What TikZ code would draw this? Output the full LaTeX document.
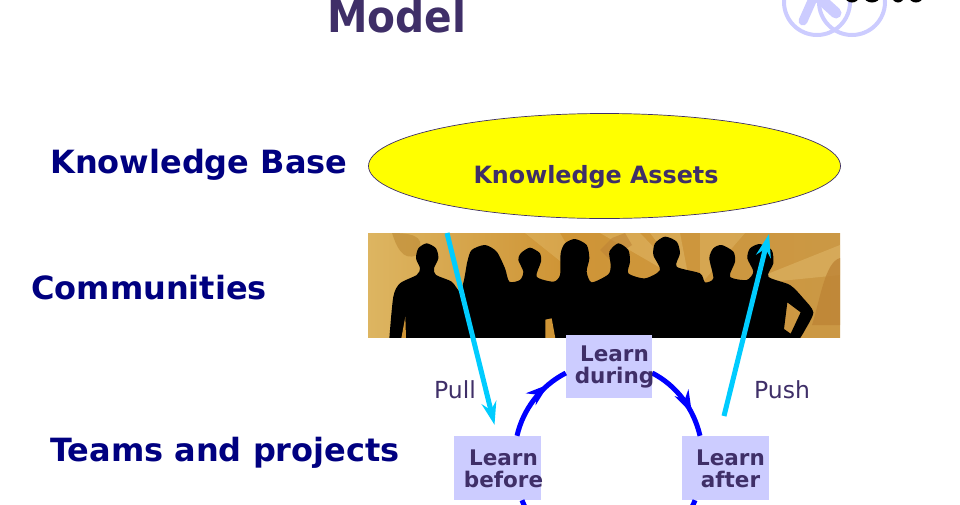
\documentclass[tikz,border=0pt]{standalone}
\usepackage{fontspec}
\setmainfont{DejaVu Sans}
\newfontfamily\condfont[FakeStretch=0.925]{DejaVu Sans}
\usetikzlibrary{arrows.meta,shapes.geometric,decorations.markings}
\definecolor{ink}{HTML}{3F2F68}
\definecolor{navyt}{HTML}{000080}
\definecolor{lilac}{HTML}{CCCCFF}
\definecolor{cyanar}{HTML}{00CCFF}
\definecolor{yel}{HTML}{FFFF00}
\definecolor{blu}{HTML}{0000FF}
\definecolor{goldA}{HTML}{DDB561}
\definecolor{goldB}{HTML}{CF9536}
\definecolor{goldC}{HTML}{CB9845}
\definecolor{goldD}{HTML}{BE8436}
\definecolor{goldL}{HTML}{EBCB80}
\tikzset{x=1pt,y=-1pt,
 heading/.style={font=\fontsize{32}{32}\selectfont\bfseries,text=navyt,anchor=base west,inner sep=0},
 learnbox/.style={fill=lilac,inner sep=0},
 learntext/.style={font=\fontsize{21.5}{22.5}\selectfont\bfseries,text=ink,align=center,inner sep=0},
 cyc/.style={draw=blu,line width=5},
 pp/.style={line width=5,draw=cyanar,-{Stealth[length=23,width=15,inset=8]}},
 side/.style={font=\fontsize{23.5}{24}\selectfont,text=ink,anchor=base west,inner sep=0},
 midtip/.style={postaction={decorate},decoration={markings,mark=at position #1 with {\arrow[blu]{Stealth[length=23,width=15,inset=7]}}}}}
\begin{document}
\begin{tikzpicture}
\useasboundingbox (0,0) rectangle (960,504);
\clip (0,0) rectangle (960,504);
% title
\node[anchor=base west,inner sep=0,font=\condfont\fontsize{44}{44}\selectfont\bfseries,text=ink] (title) at (327,32) {Model};
% logo
\draw[lilac,line width=4] (817,2) circle (33);
\draw[lilac,line width=4] (852,2) circle (33);
\draw[lilac,line width=9,line cap=round] (803,21) -- (815,-6);
\draw[lilac,line width=11,line cap=round] (815,-6) -- (836,13);
\foreach \lx/\lr in {852/7,872/8,898/6,916/7}
  \fill[black] (\lx,-3.5) ellipse ({\lr} and 6);
% headings
\node[heading] (kb) at (50,173.5) {Knowledge Base};
\node[heading] (comm) at (31,299.5) {Communities};
\node[heading] (teams) at (50,461.5) {Teams and projects};
% ellipse
\node[ellipse,draw=ink,fill=yel,minimum width=472,minimum height=105,inner sep=0,line width=.7] (assets) at (604.5,166) {};
\node[anchor=base,inner sep=0,font=\fontsize{23.8}{24}\selectfont\bfseries,text=ink] (assetlabel) at (596,183.5) {Knowledge Assets};
% photo
\begin{scope}
\clip (368,233) rectangle (840,337);
\fill[goldB] (368,233) rectangle (840,337);
\shade[left color=goldA,right color=goldB] (368,233) rectangle (560,337);
\shade[left color=goldB,right color=goldC] (560,233) rectangle (840,337);
\fill[goldL,opacity=.35] (690,285) -- (600,233) -- (640,233) -- cycle;
\fill[goldL,opacity=.35] (690,285) -- (650,233) -- (680,233) -- cycle;
\fill[goldL,opacity=.3] (590,285) -- (525,233) -- (560,233) -- cycle;
\fill[goldL,opacity=.3] (700,285) -- (700,233) -- (745,233) -- cycle;
\fill[goldL,opacity=.35] (740,285) -- (840,245) -- (840,275) -- cycle;
\fill[goldB!90!black,opacity=.55] (392,233) .. controls (420,233) and (425,240) .. (417,255) .. controls (402,262) and (396,245) .. cycle;
\fill[goldD,opacity=.8] (840,258) .. controls (825,262) and (820,300) .. (812,325) -- (840,325) -- cycle;
\fill[goldD,opacity=.6] (600,250) -- (612,238) -- (625,233) -- (632,245) -- (610,260) -- cycle;
% silhouettes
\begin{scope}[shift={(360,225)},x=1/3,y=-1/3]
\fill[black,even odd rule]
 plot[smooth,tension=.45] coordinates {(88,340) (100,215) (120,175) (170,150) (180,130) (168,100) (175,70) (200,55) (228,70) (235,100) (222,130) (228,150) (275,170) (300,200) (312,165) (322,110) (335,75) (375,60) (410,80) (435,130) (448,170) (480,165) (490,140) (475,105) (482,85) (510,68) (540,85) (543,110) (530,155) (580,170) (600,150) (602,85) (615,55) (645,42) (680,60) (688,100) (680,140) (695,172) (745,148) (752,120) (748,80) (775,55) (805,75) (810,110) (805,145) (855,160) (900,135) (880,90) (885,55) (915,35) (950,50) (960,85) (950,125) (1020,145) (1035,172) (1060,160) (1048,100) (1060,70) (1085,60) (1120,80) (1125,110) (1110,155) (1160,165) (1180,140) (1162,100) (1170,70) (1200,57) (1235,75) (1240,115) (1225,155) (1290,180) (1330,220) (1360,262) (1335,315) (1320,340)} -- cycle
 (1282,232) -- (1322,262) -- (1292,326) -- (1272,312) -- cycle;
\fill[goldB] (556,340) -- (556,284) -- (575,280) -- (586,340) -- cycle;
\fill[goldB] (124,340) -- (136,275) -- (138,340) -- cycle;
\end{scope}
\end{scope}
% cycle
\node[learnbox,minimum width=86,minimum height=63] (during) at (609,366.5) {};
\node[learnbox,minimum width=87,minimum height=64] (before) at (497.5,468) {};
\node[learnbox,minimum width=87,minimum height=64] (after) at (725.5,468) {};
\draw[cyc,midtip=.75] ([xshift=19.5pt]before.north) .. controls (523.2,408.8) and (541.1,385.7) .. ([yshift=-6.5pt]during.west);
\draw[cyc,midtip=.71] ([yshift=-6.5pt]during.east) .. controls (676.9,385.7) and (693.7,408.8) .. ([xshift=-25.5pt]after.north);
\draw[cyc] ([xshift=24.5pt]before.south) .. controls (545,563) and (672,563) .. ([xshift=-30.5pt]after.south);
\node[learntext] (tduring) at (614.5,367) {Learn\\during};
\node[learntext] (tbefore) at (503.5,469) {Learn\\before};
\node[learntext] (tafter) at (730.5,469) {Learn\\after};
% pull/push
\coordinate (pullstart) at (447,233);
\coordinate (pushend) at (769,234);
\draw[pp] (pullstart) -- ([xshift=-3pt,yshift=11pt]before.north);
\coordinate (pushstart) at (724,416);
\draw[pp] (pushstart) -- (pushend);
\node[side] (pull) at (434,398) {Pull};
\node[side] (push) at (754,398) {Push};
\end{tikzpicture}
\end{document}
